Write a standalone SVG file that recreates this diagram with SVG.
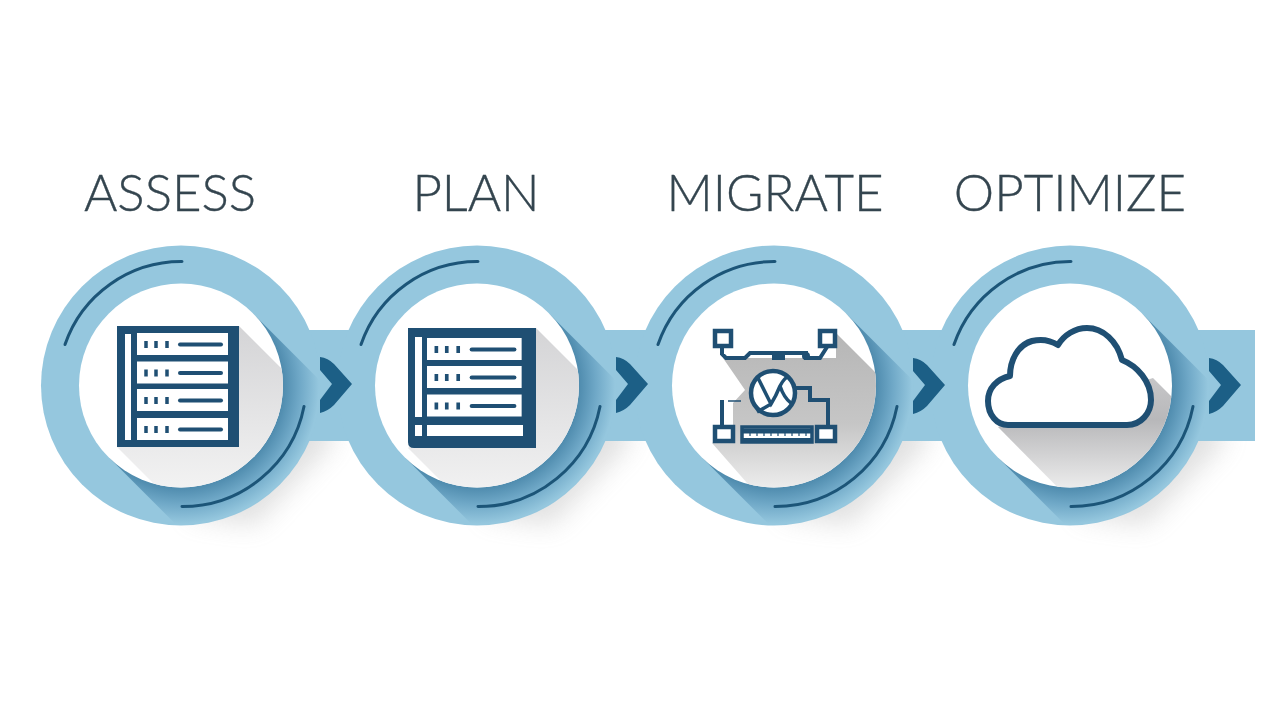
<svg xmlns="http://www.w3.org/2000/svg" width="1280" height="720" viewBox="0 0 1280 720">
<style>
.t{font-family:"Lato","Open Sans",sans-serif;font-weight:300;font-size:51px;fill:#34454f;stroke:#34454f;stroke-width:0.35;text-anchor:middle}
.ring{fill:#95c7de}
.white{fill:#fff}
.arc{fill:none;stroke:#1c5578;stroke-width:3;stroke-linecap:round}
.chev{fill:#1c5f86}
.ink{fill:#1f4f73}
.pane{fill:#fff}
.lns{fill:none;stroke:#1f4f73;stroke-width:4}
.box{fill:#fff;stroke:#1f4f73;stroke-width:4.5}
.hl{stroke:#1f4f73;stroke-width:4;stroke-linecap:round;fill:none}
</style>
<defs>
<filter id="soft" x="-30%" y="-30%" width="160%" height="160%"><feGaussianBlur stdDeviation="13"/></filter>
<radialGradient id="rs" gradientUnits="userSpaceOnUse" cx="0" cy="0" r="138"><stop offset="0.72" stop-color="#4a87aa"/><stop offset="0.86" stop-color="#6fa8c7"/><stop offset="1" stop-color="#95c7de"/></radialGradient>
<linearGradient id="s1" x1="0" y1="0" x2="0" y2="1"><stop offset="0" stop-color="#d4d4d6"/><stop offset="1" stop-color="#f8f8f8"/></linearGradient>
<linearGradient id="s3" x1="0" y1="0" x2="0" y2="1"><stop offset="0" stop-color="#b6b6b6"/><stop offset="0.5" stop-color="#c6c6c6"/><stop offset="0.85" stop-color="#ececec"/><stop offset="1" stop-color="#fafafa"/></linearGradient>
<linearGradient id="s4" x1="0" y1="0" x2="0" y2="1"><stop offset="0" stop-color="#c6c6c8"/><stop offset="0.3" stop-color="#b8b8ba"/><stop offset="0.85" stop-color="#f4f4f4"/><stop offset="1" stop-color="#fdfdfd"/></linearGradient>
<clipPath id="o"><circle cx="0" cy="0" r="138"/></clipPath>
<clipPath id="w1"><circle cx="181" cy="385.500" r="102"/></clipPath>
<clipPath id="w2"><circle cx="477" cy="385.500" r="102"/></clipPath>
<clipPath id="w3"><circle cx="774" cy="385.500" r="102"/></clipPath>
<clipPath id="w4"><circle cx="1070" cy="385.500" r="102"/></clipPath>
<g id="disc">
<circle class="ring" cx="0" cy="0" r="140"/>
<path clip-path="url(#o)" d="M72 -72L172 28L28 172L-72 72Z" fill="url(#rs)"/>
<path class="arc" d="M-116 -41A123 123 0 0 1 1 -124"/>
<path class="arc" d="M123 21A124 124 0 0 1 1 121"/>
<circle class="white" cx="0" cy="0" r="102"/>
</g>
<path id="chevron" class="chev" d="M0 -27Q8 -26 14 -20L32 0L14 21Q8 27 0 29V16L12 0L0 -14Z"/>
<g id="row"><rect class="pane" x="0" y="0" width="91" height="22"/><path class="hl" d="M43 11.500H84"/><path d="M9 8V15M19 8V15M30 8V15" stroke="#1f4f73" stroke-width="3.500" fill="none"/></g>
</defs>
<rect width="1280" height="720" fill="#fff"/>
<g id="soft-shadows" fill="#8f8f8f" opacity="0.27" filter="url(#soft)">
<path d="M185 515L315 400L335 440L255 525Z"/>
<path d="M480 515L610 400L632 440L552 525Z"/>
<path d="M778 515L908 400L930 440L850 525Z"/>
<path d="M1074 515L1204 400L1226 440L1146 525Z"/>
</g>
<rect id="band" class="ring" x="181" y="330" width="1074" height="111"/>
<g id="assess">
<use href="#disc" x="181" y="385.500"/>
<path clip-path="url(#w1)" d="M239 326L320 407V520H190L117 447Z" fill="url(#s1)"/>
<rect class="ink" x="117" y="326" width="122" height="121"/>
<rect class="pane" x="125" y="334" width="6" height="106"/>
<use href="#row" x="137" y="333"/><use href="#row" x="137" y="361.500"/><use href="#row" x="137" y="389"/><use href="#row" x="137" y="418"/>
</g>
<g id="plan">
<use href="#disc" x="477" y="385.500"/>
<path clip-path="url(#w2)" d="M536 328L620 412V530H490L408 448Z" fill="url(#s1)"/>
<path class="ink" d="M408 328H536V448H414Q408 448 408 442Z"/>
<rect class="pane" x="415" y="337" width="7" height="80"/>
<rect class="pane" x="415" y="425" width="7" height="11"/>
<rect class="pane" x="427" y="425" width="96" height="11"/>
<g transform="translate(427 338) scale(1.04 1)"><use href="#row"/></g>
<g transform="translate(427 366) scale(1.04 1)"><use href="#row"/></g>
<g transform="translate(427 394.500) scale(1.04 1)"><use href="#row"/></g>
</g>
<g id="migrate">
<use href="#disc" x="774" y="385.500"/>
<path clip-path="url(#w3)" d="M723 358L745 390L733 403V430L712 443L775 515H910V407L836 333V358Z" fill="url(#s3)"/>
<rect class="box" x="715" y="331" width="16" height="15"/>
<rect class="box" x="820" y="331" width="15" height="15"/>
<path class="lns" d="M722 347V354L726 358H745L750 353H806V358H820L827 347"/>
<rect x="772" y="354" width="13" height="6" fill="#1f4f73"/><circle cx="806" cy="356" r="4" fill="#1f4f73"/>
<circle cx="773" cy="393" r="22" fill="#fff" stroke="#1f4f73" stroke-width="4.500"/>
<path d="M757 376L771 404Q776 396 780 386Q784 378 789 376M780 386Q784 398 791 403M757 412L771 404" fill="none" stroke="#1f4f73" stroke-width="3.500"/>
<path class="lns" d="M795 388H810V400H828V428M722 425V400"/>
<path d="M728 401H741" stroke="#1f4f73" stroke-width="1.500"/>
<rect class="box" x="715" y="427" width="18" height="14"/>
<rect class="box" x="817" y="427" width="18" height="14"/>
<rect x="742" y="427" width="70" height="15" fill="#fff" stroke="#1f4f73" stroke-width="3.500"/>
<path d="M743 429H811V433H743ZM750 433V436M757 433V436M764 433V436M771 433V436M778 433V436M785 433V436M792 433V436M799 433V436M806 433V436" fill="#1f4f73" stroke="#1f4f73" stroke-width="1.200"/>
<rect x="742" y="438" width="70" height="3" fill="#1f4f73"/>
</g>
<g id="optimize">
<use href="#disc" x="1070" y="385.500"/>
<path clip-path="url(#w4)" d="M1153 378L1210 435V520H1090L998 427Z" fill="url(#s4)"/>
<path d="M1008 425H1127C1141 425 1151 413 1151 400C1151 381 1137 366 1122 360C1117 341 1103 328 1087 328C1075 328 1064 335 1058 345C1050 340 1040 339 1032 341C1018 345 1010 360 1010 376C997 379 988 388 988 401C988 415 997 425 1008 425Z" fill="#fff" stroke="#1f4f73" stroke-width="6" stroke-linejoin="round"/>
</g>
<g id="connectors">
<use href="#chevron" x="320" y="384"/>
<use href="#chevron" x="616" y="384"/>
<use href="#chevron" x="913" y="385"/>
<use href="#chevron" x="1209" y="385"/>
</g>
<g id="labels">
<text class="t" x="170" y="211">ASSESS</text>
<text class="t" x="476" y="211">PLAN</text>
<text class="t" x="775" y="211">MIGRATE</text>
<text class="t" x="1070" y="211">OPTIMIZE</text>
</g>
</svg>
